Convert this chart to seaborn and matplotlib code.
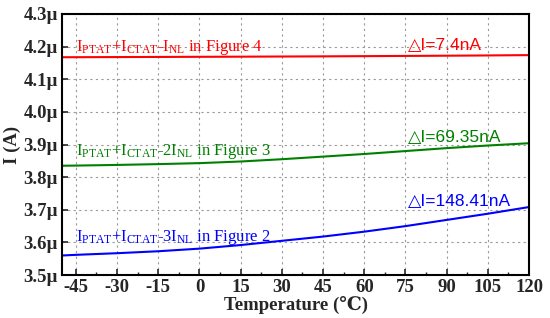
import pandas as pd
import matplotlib.pyplot as plt
import seaborn as sns

# temperature points (degC) and read-off currents (uA)
temp = [-50, -45, -30, -15, 0, 15, 30, 45, 60, 75, 90, 105, 120]
i_fig4 = [4.1675, 4.1676, 4.1680, 4.1684, 4.1688, 4.1692, 4.1697, 4.1702, 4.1708, 4.1715, 4.1722, 4.1730, 4.1740]
i_fig3 = [3.8350, 3.8355, 3.8375, 3.8400, 3.8430, 3.8480, 3.8550, 3.8630, 3.8710, 3.8800, 3.8890, 3.8970, 3.9040]
i_fig2 = [3.5600, 3.5620, 3.5670, 3.5730, 3.5810, 3.5920, 3.6050, 3.6180, 3.6330, 3.6500, 3.6690, 3.6880, 3.7085]

labels = [r'I$_{\rm PTAT}$+I$_{\rm CTAT}$-I$_{\rm NL}$ in Figure 4',
          r'I$_{\rm PTAT}$+I$_{\rm CTAT}$-2I$_{\rm NL}$ in Figure 3',
          r'I$_{\rm PTAT}$+I$_{\rm CTAT}$-3I$_{\rm NL}$ in Figure 2']
deltas = ['△I=7.4nA', '△I=69.35nA', '△I=148.41nA']
colors = ['#ff0000', '#008000', '#0000ff']
xticks = [-45, -30, -15, 0, 15, 30, 45, 60, 75, 90, 105, 120]
yticks = [3.5, 3.6, 3.7, 3.8, 3.9, 4.0, 4.1, 4.2, 4.3]

sns.set_style('ticks')
plt.rcParams['font.family'] = ['Liberation Serif', 'DejaVu Serif']
plt.rcParams['mathtext.fontset'] = 'custom'
plt.rcParams['mathtext.rm'] = 'Liberation Serif'
plt.rcParams['mathtext.it'] = 'Liberation Serif:italic'

df = pd.DataFrame({'T': temp * 3,
                   'I': i_fig4 + i_fig3 + i_fig2,
                   'curve': [labels[0]] * len(temp) + [labels[1]] * len(temp) + [labels[2]] * len(temp)})

fig, ax = plt.subplots(figsize=(5.5, 3.18), dpi=100)
sns.lineplot(data=df, x='T', y='I', hue='curve', palette=colors, linewidth=1.5,
             legend=False, ax=ax)

ax.set_xlim(-50, 120)
ax.set_ylim(3.5, 4.3)
ax.set_xticks(xticks)
ax.set_xticks([x + 7.5 for x in xticks[:-1]], minor=True)
ax.set_yticks(yticks)
ax.set_xticklabels([str(x) for x in xticks], fontweight='bold', fontsize=13.5)
ax.set_yticklabels([f'{y:.1f}µ' for y in yticks], fontweight='bold', fontsize=13.5)
ax.tick_params(direction='in', length=4, width=1.2, pad=3)
ax.tick_params(which='minor', direction='in', length=2.5, width=1)
ax.grid(True, which='major', linestyle=(0, (2, 3)), color='#999999', linewidth=0.8)
for s in ax.spines.values():
    s.set_linewidth(1.5)
    s.set_color('black')
ax.set_xlabel('Temperature (℃)', fontweight='bold', fontsize=13.5, labelpad=0)
ax.set_ylabel('I (A)', fontweight='bold', fontsize=13.5, labelpad=2)

text_y = [4.197, 3.880, 3.615]
delta_y = [4.203, 3.922, 3.726]
for lab, d, c, ty, dy in zip(labels, deltas, colors, text_y, delta_y):
    ax.text(-45, ty, lab, color=c, fontsize=12, va='center', ha='left')
    ax.text(76, dy, d, color=c, fontsize=12.5, va='center', ha='left',
            family=['Liberation Sans', 'DejaVu Sans'])

plt.subplots_adjust(left=0.113, right=0.962, top=0.956, bottom=0.135)
plt.savefig('out.png')
